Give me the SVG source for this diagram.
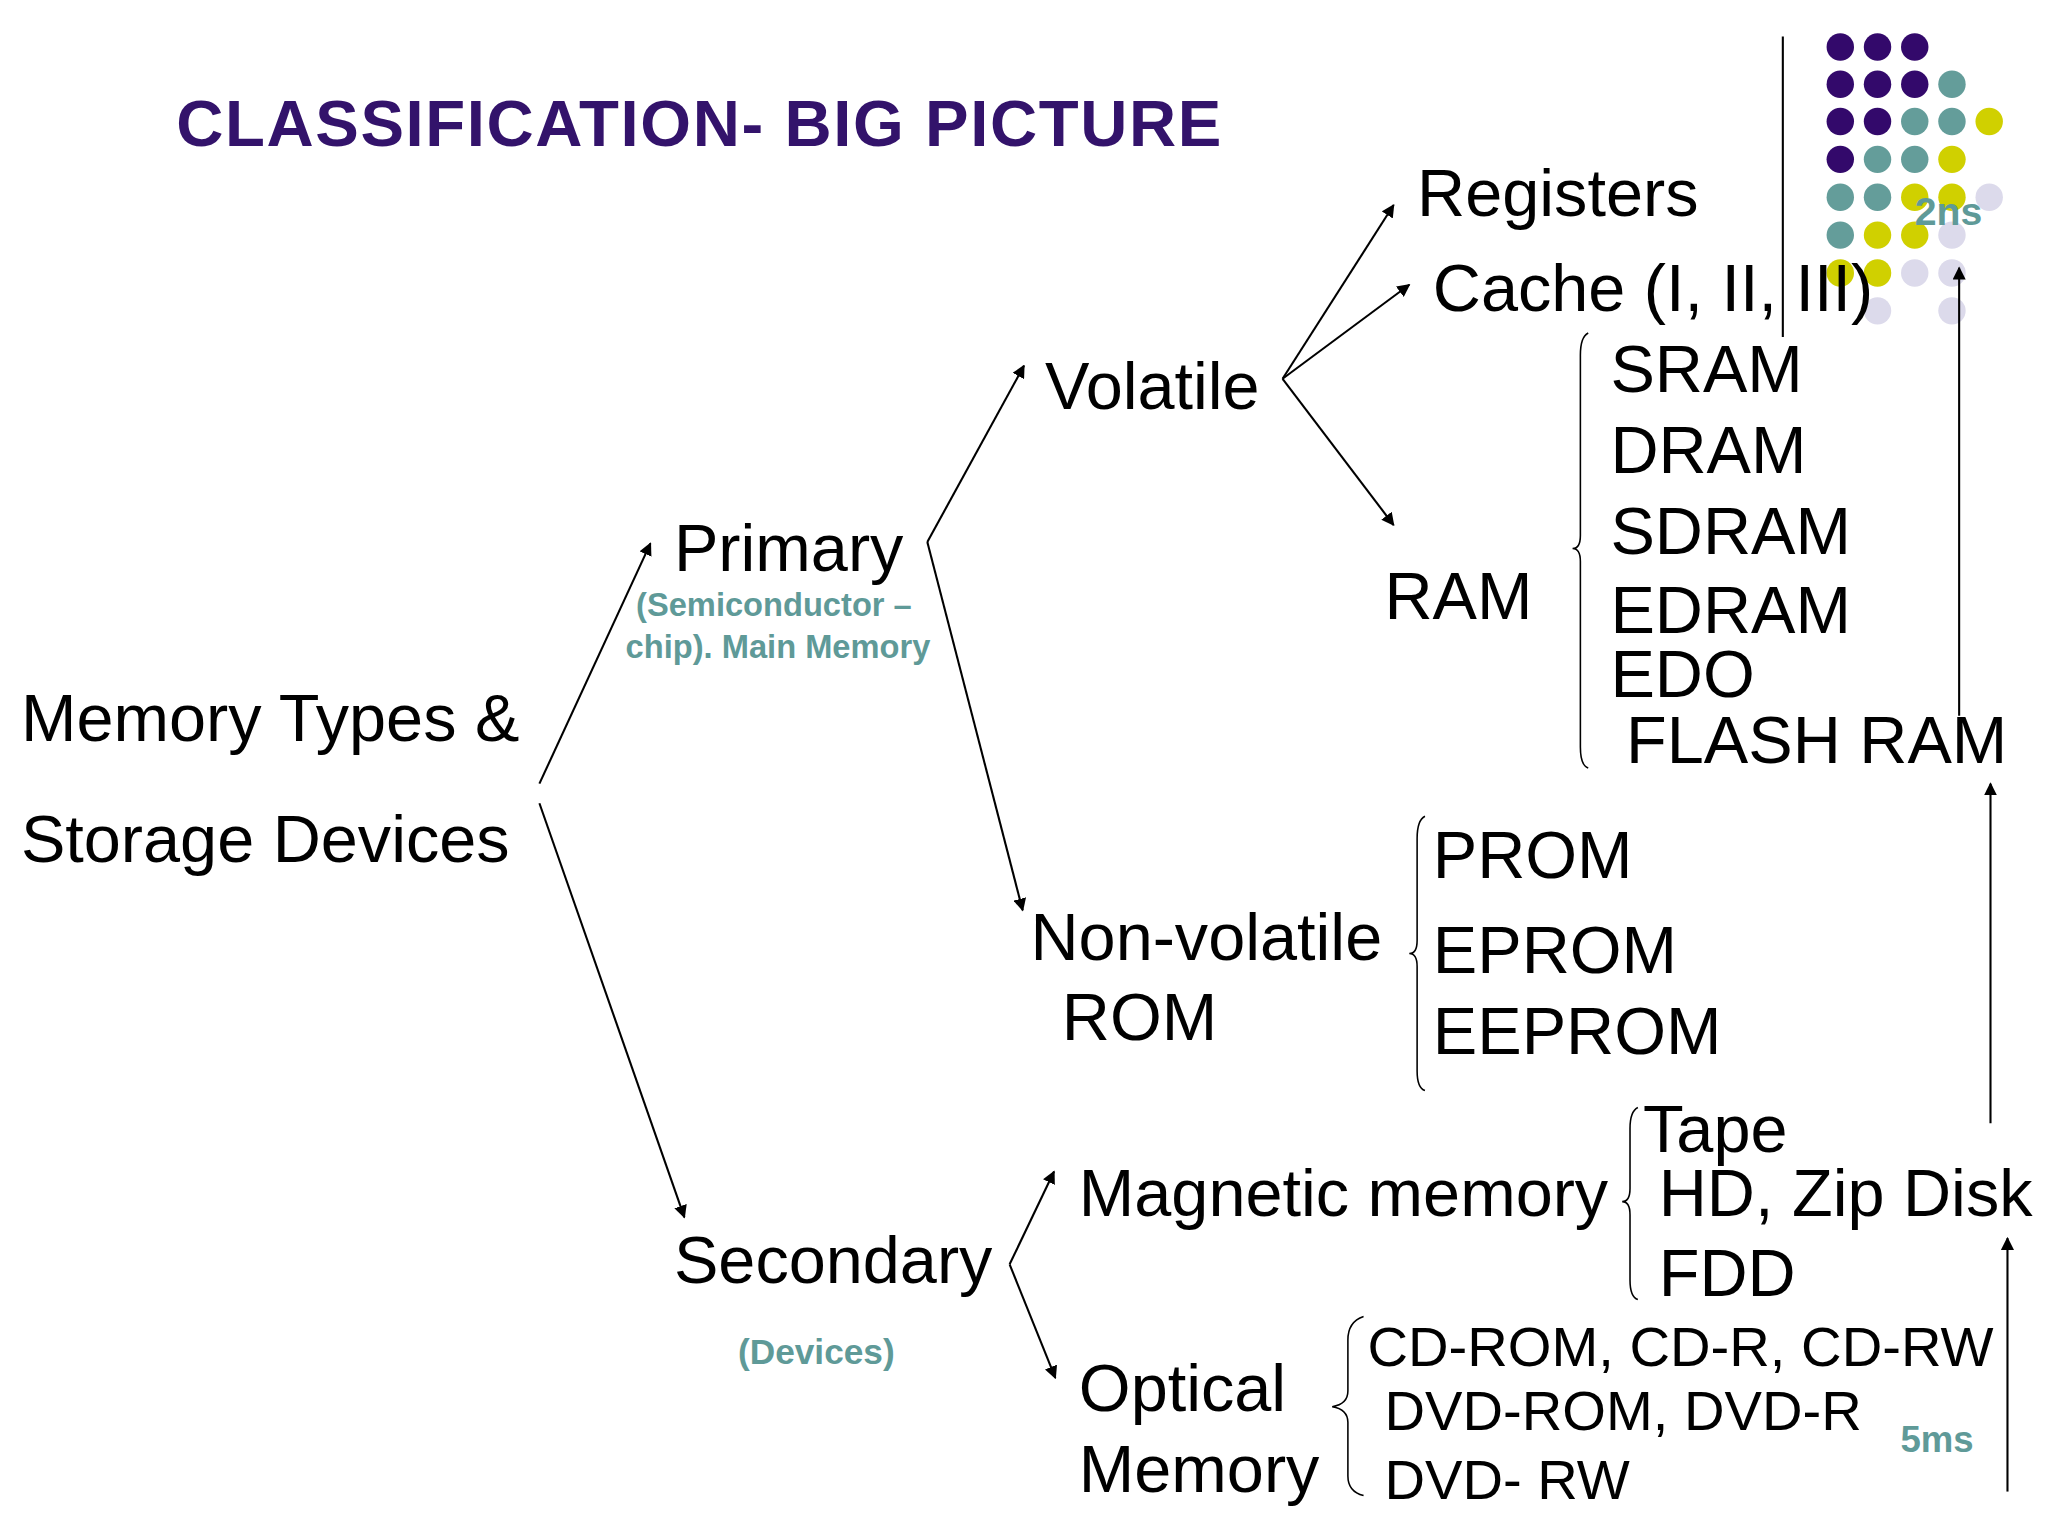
<svg xmlns="http://www.w3.org/2000/svg" width="2048" height="1536" viewBox="0 0 2048 1536">
<style>
.t{font-family:"Liberation Sans",Arial,sans-serif;font-size:51px;fill:#000}
.o{font-family:"Liberation Sans",Arial,sans-serif;font-size:43px;fill:#000}
.s{font-family:"Liberation Sans",Arial,sans-serif;font-weight:bold;fill:#5f9a98}
.ln{stroke:#000;stroke-width:1.6;fill:none}
.br{stroke:#000;stroke-width:1.2;fill:none}
.P{fill:#33096b}.T{fill:#649d9a}.Y{fill:#d0d000}.L{fill:#dcdaeb}
</style>
<defs><marker id="a" viewBox="0 0 10 10" refX="9" refY="5" markerWidth="10" markerHeight="10" markerUnits="userSpaceOnUse" orient="auto"><path d="M0,0L10,5L0,10z" fill="#000"/></marker></defs>
<rect width="2048" height="1536" fill="#fff"/>
<g transform="scale(1.3061)">
<g id="dots">
<circle class="P" cx="1409" cy="36" r="10.5"/><circle class="P" cx="1437.5" cy="36" r="10.5"/><circle class="P" cx="1466" cy="36" r="10.5"/>
<circle class="P" cx="1409" cy="64.5" r="10.5"/><circle class="P" cx="1437.5" cy="64.5" r="10.5"/><circle class="P" cx="1466" cy="64.5" r="10.5"/><circle class="T" cx="1494.5" cy="64.5" r="10.5"/>
<circle class="P" cx="1409" cy="93" r="10.5"/><circle class="P" cx="1437.5" cy="93" r="10.5"/><circle class="T" cx="1466" cy="93" r="10.5"/><circle class="T" cx="1494.5" cy="93" r="10.5"/><circle class="Y" cx="1523" cy="93" r="10.5"/>
<circle class="P" cx="1409" cy="122" r="10.5"/><circle class="T" cx="1437.5" cy="122" r="10.5"/><circle class="T" cx="1466" cy="122" r="10.5"/><circle class="Y" cx="1494.5" cy="122" r="10.5"/>
<circle class="T" cx="1409" cy="151" r="10.5"/><circle class="T" cx="1437.5" cy="151" r="10.5"/><circle class="Y" cx="1466" cy="151" r="10.5"/><circle class="Y" cx="1494.5" cy="151" r="10.5"/><circle class="L" cx="1523" cy="151" r="10.5"/>
<circle class="T" cx="1409" cy="180" r="10.5"/><circle class="Y" cx="1437.5" cy="180" r="10.5"/><circle class="Y" cx="1466" cy="180" r="10.5"/><circle class="L" cx="1494.5" cy="180" r="10.5"/>
<circle class="Y" cx="1409" cy="209" r="10.5"/><circle class="Y" cx="1437.5" cy="209" r="10.5"/><circle class="L" cx="1466" cy="209" r="10.5"/><circle class="L" cx="1494.5" cy="209" r="10.5"/>
<circle class="L" cx="1437.5" cy="238" r="10.5"/><circle class="L" cx="1494.5" cy="238" r="10.5"/>
</g>
<text x="135" y="112" font-family="Liberation Sans,Arial,sans-serif" font-weight="bold" font-size="50" fill="#33136b" textLength="800">CLASSIFICATION- BIG PICTURE</text>
<g id="connectors">
<line class="ln" x1="1365" y1="28" x2="1365" y2="258"/>
<line class="ln" x1="413" y1="600" x2="498" y2="416" marker-end="url(#a)"/>
<line class="ln" x1="413" y1="615" x2="524" y2="932" marker-end="url(#a)"/>
<line class="ln" x1="710" y1="415" x2="784" y2="280" marker-end="url(#a)"/>
<line class="ln" x1="710" y1="415" x2="783" y2="697" marker-end="url(#a)"/>
<line class="ln" x1="982" y1="290" x2="1067" y2="157" marker-end="url(#a)"/>
<line class="ln" x1="982" y1="290" x2="1079" y2="218" marker-end="url(#a)"/>
<line class="ln" x1="982" y1="290" x2="1067" y2="402" marker-end="url(#a)"/>
<line class="ln" x1="773" y1="968" x2="807" y2="897" marker-end="url(#a)"/>
<line class="ln" x1="773" y1="968" x2="808" y2="1055" marker-end="url(#a)"/>
<line class="ln" x1="1500" y1="548" x2="1500" y2="205" marker-end="url(#a)"/>
<line class="ln" x1="1524" y1="860" x2="1524" y2="600" marker-end="url(#a)"/>
<line class="ln" x1="1537" y1="1142" x2="1537" y2="948" marker-end="url(#a)"/>
<path class="br" d="M1216,255Q1210,258 1210,272L1210,410Q1210,420 1204,420Q1210,420 1210,430L1210,572Q1210,586 1216,588"/>
<path class="br" d="M1091,625Q1085,628 1085,642L1085,720Q1085,730 1079,730Q1085,730 1085,740L1085,820Q1085,833 1091,835"/>
<path class="br" d="M1254,848Q1248,851 1248,864L1248,910Q1248,920 1242,920Q1248,920 1248,930L1248,980Q1248,993 1254,995"/>
<path class="br" d="M1044,1008Q1032,1012 1032,1026L1032,1065Q1032,1075 1020,1077Q1032,1079 1032,1089L1032,1130Q1032,1142 1044,1145"/>
</g>
<g id="n-root"><text class="t" x="16" y="567">Memory Types &amp;</text><text class="t" x="16" y="660">Storage Devices</text></g>
<g id="n-primary"><text class="t" x="516" y="437">Primary</text><text class="s" font-size="25" x="487" y="472">(Semiconductor –</text><text class="s" font-size="25" x="479" y="504">chip). Main Memory</text></g>
<g id="n-secondary"><text class="t" x="516" y="982">Secondary</text><text class="s" font-size="27" x="565" y="1044">(Devices)</text></g>
<g id="n-volatile"><text class="t" x="800" y="313">Volatile</text></g>
<g id="n-nonvol"><text class="t" x="789" y="735">Non-volatile</text><text class="t" x="813" y="796">ROM</text></g>
<g id="n-reg"><text class="t" x="1085" y="165">Registers</text></g>
<g id="n-cache"><text class="t" x="1097" y="238">Cache (I, II, III)</text></g>
<g id="n-ram"><text class="t" x="1060" y="474">RAM</text></g>
<g id="n-ramlist"><text class="t" x="1233" y="300">SRAM</text><text class="t" x="1233" y="362">DRAM</text><text class="t" x="1233" y="424">SDRAM</text><text class="t" x="1233" y="485">EDRAM</text><text class="t" x="1233" y="534">EDO</text><text class="t" x="1245" y="584">FLASH RAM</text></g>
<g id="n-romlist"><text class="t" x="1097" y="672">PROM</text><text class="t" x="1097" y="745">EPROM</text><text class="t" x="1097" y="807">EEPROM</text></g>
<g id="n-mag"><text class="t" x="826" y="931">Magnetic memory</text></g>
<g id="n-maglist"><text class="t" x="1258" y="882">Tape</text><text class="t" x="1270" y="931">HD, Zip Disk</text><text class="t" x="1270" y="992">FDD</text></g>
<g id="n-opt"><text class="t" x="826" y="1080">Optical</text><text class="t" x="826" y="1142">Memory</text></g>
<g id="n-optlist"><text class="o" x="1047" y="1046">CD-ROM, CD-R, CD-RW</text><text class="o" x="1060" y="1095">DVD-ROM, DVD-R</text><text class="o" x="1060" y="1148">DVD- RW</text></g>
<text class="s" font-size="30" x="1466" y="172">2ns</text>
<text class="s" font-size="28" x="1455" y="1112">5ms</text>
</g>
</svg>
